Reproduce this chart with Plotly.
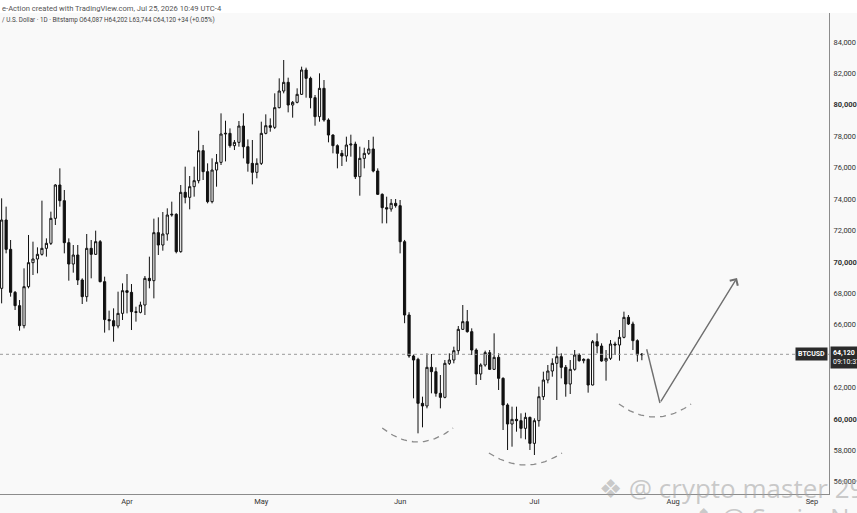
import numpy as np
import pandas as pd
import plotly.graph_objects as go

# ---------------- data (BTCUSD daily, Bitstamp) ----------------
start_date = "2026-03-04"
opens = [68319, 72669, 70802, 68065, 67216, 65942, 68425, 69953, 70187, 70484,
         70866, 71184, 72775, 74897, 73900, 71226, 69868, 70441, 68850, 67789,
         70866, 70484, 71290, 68744, 66330, 66260, 65920, 66727, 68170, 68064,
         66833, 66790, 67258, 68955, 68807, 71863, 71078, 71778, 72987, 73030,
         70653, 74430, 74112, 74791, 75173, 77083, 75746, 73836, 75851, 76339,
         78143, 78185, 77400, 77612, 78652, 77336, 76275, 75703, 76275, 78185,
         78673, 78567, 79820, 80880, 81432, 79989, 80159, 80668, 82217, 81687,
         80456, 79246, 81050, 79034, 78079, 77400, 76912, 76742, 77443, 77500,
         75427, 76594, 76912, 77188, 75787, 74302, 73454, 73370, 73730, 73580,
         71288, 66622, 64013, 63800, 60999, 60830, 63291, 63015, 61636, 61381,
         63546, 63758, 64352, 65710, 66198, 65562, 64394, 62867, 63439, 64225,
         63164, 63928, 62591, 60893, 59683, 59980, 59895, 59407, 60107, 58452,
         59895, 61423, 62484, 63057, 63545, 63970, 63290, 62229, 63163, 64076,
         63715, 63800, 62166, 64924, 64648, 63694, 63864, 64776, 64712, 65200,
         66474, 66049, 64988, 64087]
highs = [74049, 73518, 71396, 68150, 67576, 69593, 71715, 71290, 70930, 73900,
         71500, 73200, 74950, 75958, 74579, 71500, 71078, 71078, 68956, 71778,
         71396, 71990, 71396, 69062, 66900, 67046, 68107, 68637, 69231, 68594,
         67150, 67470, 69104, 70335, 72754, 72839, 73178, 73412, 73836, 73100,
         74897, 76064, 75470, 76064, 78356, 77445, 76276, 76594, 76870, 79458,
         78990, 78500, 77761, 78970, 79459, 77800, 77761, 76594, 78928, 79395,
         79140, 80732, 81687, 82854, 81729, 80244, 81050, 82430, 82366, 81793,
         80626, 82005, 81580, 79140, 78122, 77485, 77124, 77973, 78100, 77655,
         77337, 77273, 77761, 77973, 75957, 74366, 74153, 74005, 74005, 73942,
         71400, 66800, 64100, 63900, 61424, 64182, 64140, 63291, 62803, 63758,
         64182, 64607, 65922, 67259, 66941, 65774, 64500, 63546, 64352, 64394,
         65455, 64182, 62655, 61000, 60787, 60787, 60362, 60405, 60150, 60044,
         62060, 63015, 63439, 63864, 64606, 64182, 63439, 63758, 64394, 64182,
         63864, 63850, 65031, 65455, 64818, 64394, 65031, 64924, 65667, 66834,
         66622, 66198, 65073, 64202]
lows = [67364, 70547, 67789, 66940, 65624, 65773, 68319, 69168, 69274, 70400,
        70335, 71078, 72351, 73518, 70547, 68807, 69316, 68531, 67322, 67470,
        68956, 70441, 68700, 65500, 65650, 64924, 65773, 66303, 66727, 65666,
        66200, 66727, 66621, 68319, 67682, 70441, 70716, 71354, 72881, 70547,
        70590, 73730, 73348, 74155, 75003, 75215, 73730, 73729, 74790, 76170,
        76400, 77273, 77124, 77337, 76594, 75745, 74938, 75321, 76170, 78122,
        78291, 78461, 79777, 80732, 79522, 79183, 80095, 80626, 80456, 79777,
        78673, 78928, 78928, 77613, 76913, 75957, 76106, 76381, 76700, 75278,
        74217, 75957, 76806, 75703, 74260, 72456, 72456, 73200, 73454, 70546,
        66100, 63900, 61318, 59089, 59471, 60681, 61636, 61424, 60681, 61318,
        63439, 63546, 64076, 65668, 65498, 64076, 62166, 62485, 63333, 63121,
        63121, 61848, 59301, 58028, 58240, 59195, 58771, 58707, 58028, 57710,
        59513, 61211, 62272, 62696, 61211, 62590, 61423, 61593, 63078, 63651,
        63545, 61678, 62145, 64182, 63651, 62442, 63757, 64076, 63715, 65137,
        65985, 64394, 63651, 63744]
closes = [72669, 70802, 68065, 67216, 65942, 68425, 69953, 70187, 70484, 70866,
          71184, 72775, 74897, 73900, 71226, 69868, 70441, 68850, 67789, 70866,
          70484, 71290, 68744, 66330, 66260, 65920, 66727, 68170, 68064, 66833,
          66790, 67258, 68955, 68807, 71863, 71078, 71778, 72987, 73030, 70653,
          74430, 74112, 74791, 75173, 77083, 75746, 73836, 75851, 76339, 78143,
          78185, 77400, 77612, 78652, 77336, 76275, 75703, 76275, 78185, 78673,
          78567, 79820, 80880, 81432, 79989, 80159, 80668, 82217, 81687, 80456,
          79246, 81050, 79034, 78079, 77400, 76912, 76742, 77443, 77500, 75427,
          76594, 76912, 77188, 75787, 74302, 73454, 73370, 73730, 73580, 71288,
          66622, 64013, 63758, 60999, 60830, 63291, 63015, 61636, 61381, 63546,
          63758, 64352, 65710, 66198, 65562, 64394, 62867, 63439, 64225, 63164,
          63928, 62591, 60893, 59683, 59980, 59895, 59407, 60107, 58452, 59895,
          61423, 62484, 63057, 63545, 63970, 63290, 62229, 63163, 64076, 63715,
          63800, 62166, 64924, 64648, 63694, 63864, 64776, 64712, 65200, 66474,
          66049, 64988, 64087, 64120]
last_price = 64120

price_ticks = list(range(56000, 86000, 2000))
bold_ticks = [60000, 70000, 80000]
month_ticks = ["2026-04-01", "2026-05-01", "2026-06-01", "2026-07-01", "2026-08-01", "2026-09-01"]
month_labels = ["Apr", "May", "Jun", "Jul", "Aug", "Sep"]

# hand-drawn annotations (date, price)
arc_starts = ["2026-05-28 00:00", "2026-06-20 20:00", "2026-07-19 21:00"]
arc_ends = ["2026-06-12 20:00", "2026-07-07 04:00", "2026-08-05 00:00"]
arc_rim = [59429, 57838, 60957]
arc_bottom = [58539, 57074, 60127]
arrow_x = ["2026-07-26 02:00", "2026-07-29 01:00", "2026-08-15 06:00"]
arrow_y = [64440, 61021, 68978]

x_range = ["2026-03-03 15:11", "2026-09-04 19:12"]
y_range = [55228, 85846]

# ---------------- figure ----------------
dates = pd.date_range(start_date, periods=len(closes), freq="D")
ink = "#111111"
fig = go.Figure()
fig.add_trace(go.Candlestick(
    x=dates, open=opens, high=highs, low=lows, close=closes,
    increasing=dict(line=dict(color=ink, width=1), fillcolor="#ffffff"),
    decreasing=dict(line=dict(color=ink, width=1), fillcolor=ink),
    whiskerwidth=0, hoverinfo="skip", showlegend=False))

for s, e, rim, bot in zip(arc_starts, arc_ends, arc_rim, arc_bottom):
    t = np.linspace(0, 1, 40)
    ts, te = pd.Timestamp(s), pd.Timestamp(e)
    xs = [ts + (te - ts) * v for v in t]
    ys = rim - (rim - bot) * 4 * t * (1 - t)
    fig.add_trace(go.Scatter(x=xs, y=ys, mode="lines", hoverinfo="skip",
                             line=dict(color="#8a8a8a", width=1.3, dash="6px,5px"),
                             showlegend=False))

fig.add_trace(go.Scatter(x=arrow_x[:2], y=arrow_y[:2], mode="lines", hoverinfo="skip",
                         line=dict(color="#6f6f6f", width=1.4), showlegend=False))
fig.add_annotation(x=arrow_x[2], y=arrow_y[2], ax=arrow_x[1], ay=arrow_y[1],
                   xref="x", yref="y", axref="x", ayref="y", text="",
                   showarrow=True, arrowhead=4, arrowsize=1.3, arrowwidth=1.4,
                   arrowcolor="#6f6f6f", standoff=0)

# last price dotted line
fig.add_shape(type="line", xref="paper", x0=0, x1=1, yref="y", y0=last_price, y1=last_price,
              line=dict(color="#9a9a9a", width=1, dash="dot"))
# white header strip
fig.add_shape(type="rect", xref="paper", yref="paper", x0=-0.01, x1=1.05, y0=1.0, y1=1.04,
              fillcolor="#ffffff", line=dict(width=0), layer="below")

ticktext = [("<b>%s</b>" % f"{v:,}") if v in bold_ticks else f"{v:,}" for v in price_ticks]

fig.update_layout(
    width=857, height=513,
    margin=dict(l=0, r=28, t=13, b=19),
    paper_bgcolor="#f9f9f9", plot_bgcolor="#f9f9f9",
    font=dict(family="Roboto, Open Sans, sans-serif", size=8, color="#333333"),
    xaxis=dict(type="date", range=x_range, rangeslider=dict(visible=False),
               tickvals=month_ticks, ticktext=month_labels, showgrid=False, zeroline=False,
               showline=True, linecolor="#8c8c8c", linewidth=1, ticks="",
               tickfont=dict(size=7.5, color="#333333")),
    yaxis=dict(side="right", range=y_range, tickvals=price_ticks, ticktext=ticktext,
               showgrid=False, zeroline=False, showline=True, linecolor="#8c8c8c",
               linewidth=1, ticks="", ticklabelstandoff=2, ticklabeloverflow="allow",
               tickfont=dict(size=7.5, color="#333333")),
    hovermode=False,
)

# header texts
fig.add_annotation(xref="paper", yref="paper", x=0, y=(494 - 8) / 481, xanchor="left", yanchor="middle",
                   text="e-Action created with TradingView.com, Jul 25, 2026 10:49 UTC-4",
                   showarrow=False, font=dict(size=7.6, color="#555555"))
fig.add_annotation(xref="paper", yref="paper", x=0, y=(494 - 20) / 481, xanchor="left", yanchor="middle",
                   text="/ U.S. Dollar · 1D · Bitstamp O64,087 H64,202 L63,744 C64,120 +34 (+0.05%)",
                   showarrow=False, font=dict(size=6.3, color="#444444"))

# price labels on the right
fig.add_annotation(xref="paper", yref="y", x=1, y=last_price, xanchor="right", yanchor="middle",
                   text="<b>BTCUSD</b>", showarrow=False, bgcolor="#2b2b2b", borderpad=2,
                   font=dict(size=7, color="#ffffff"), xshift=-1)
fig.add_annotation(xref="paper", yref="y", x=1, y=last_price, xanchor="left", yanchor="top",
                   text="<b>64,120</b><br>09:10:37", align="left", showarrow=False,
                   bgcolor="#2b2b2b", borderpad=2, yshift=8, xshift=1,
                   font=dict(size=7, color="#ffffff"))

# watermark
fig.add_annotation(xref="paper", yref="paper", x=597 / 829, y=(494 - 488) / 481,
                   xanchor="left", yanchor="middle", text="❖ @ crypto master 29",
                   showarrow=False, font=dict(size=26, color="rgba(160,160,160,0.55)",
                                              family="Open Sans, sans-serif"))
fig.add_annotation(xref="paper", yref="paper", x=690 / 829, y=(494 - 497) / 481,
                   xanchor="left", yanchor="top", text="❖ @ Sanio_N",
                   showarrow=False, font=dict(size=26, color="rgba(160,160,160,0.55)",
                                              family="Open Sans, sans-serif"))

fig.write_html("out.html", config={"displayModeBar": False},
               post_script="document.body.style.margin='0';document.body.style.padding='0';")
